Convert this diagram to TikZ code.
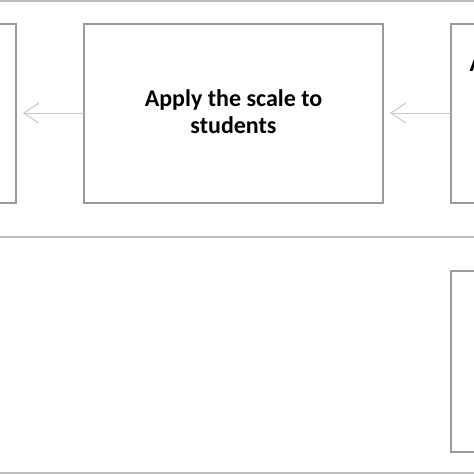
\documentclass[tikz,border=0pt]{standalone}
\usepackage{fontspec}
\setmainfont{Carlito}
\usetikzlibrary{arrows.meta}
\begin{document}
\begin{tikzpicture}[x=1pt,y=-1pt,
  box/.style={draw=boxgray,line width=2pt},
  sep/.style={draw=sepgray,line width=1.6pt},
  conn/.style={draw=arrgray,line width=0.9pt,-{Straight Barb[length=15pt,width=20pt,line width=0.9pt]}},
  lbl/.style={font=\fontsize{24}{27}\selectfont\bfseries,align=center,inner sep=0pt}]
\definecolor{boxgray}{HTML}{9A9A9A}
\definecolor{sepgray}{HTML}{BEBEBE}
\definecolor{arrgray}{HTML}{C4C4C4}
\useasboundingbox (0,0) rectangle (474,474);
\clip (0,0) rectangle (474,474);
\fill[white] (0,0) rectangle (474,474);
% separators
\draw[sep] (-5,1) -- (480,1);
\draw[sep] (-5,237) -- (480,237);
\draw[sep] (-5,473) -- (480,473);
% boxes
\draw[box] (-40,23.5) rectangle (16,202.5);
\draw[box] (84,23.5) rectangle (383,202.5);
\draw[box] (451,23.5) rectangle (520,202.5);
\draw[box] (451,271) rectangle (520,452);
\coordinate (leftR) at (16,113);
\coordinate (midL) at (84,113);
\coordinate (midR) at (383,113);
\coordinate (rightL) at (451,113);
\node[lbl] (mid) at (233.5,112) {Apply the scale to\\students};
\node[lbl,anchor=base west] (rtext) at (469.5,71.5) {A};
\draw[conn] (midL) -- ([xshift=7pt]leftR);
\draw[conn] (rightL) -- ([xshift=7pt]midR);
\end{tikzpicture}
\end{document}
